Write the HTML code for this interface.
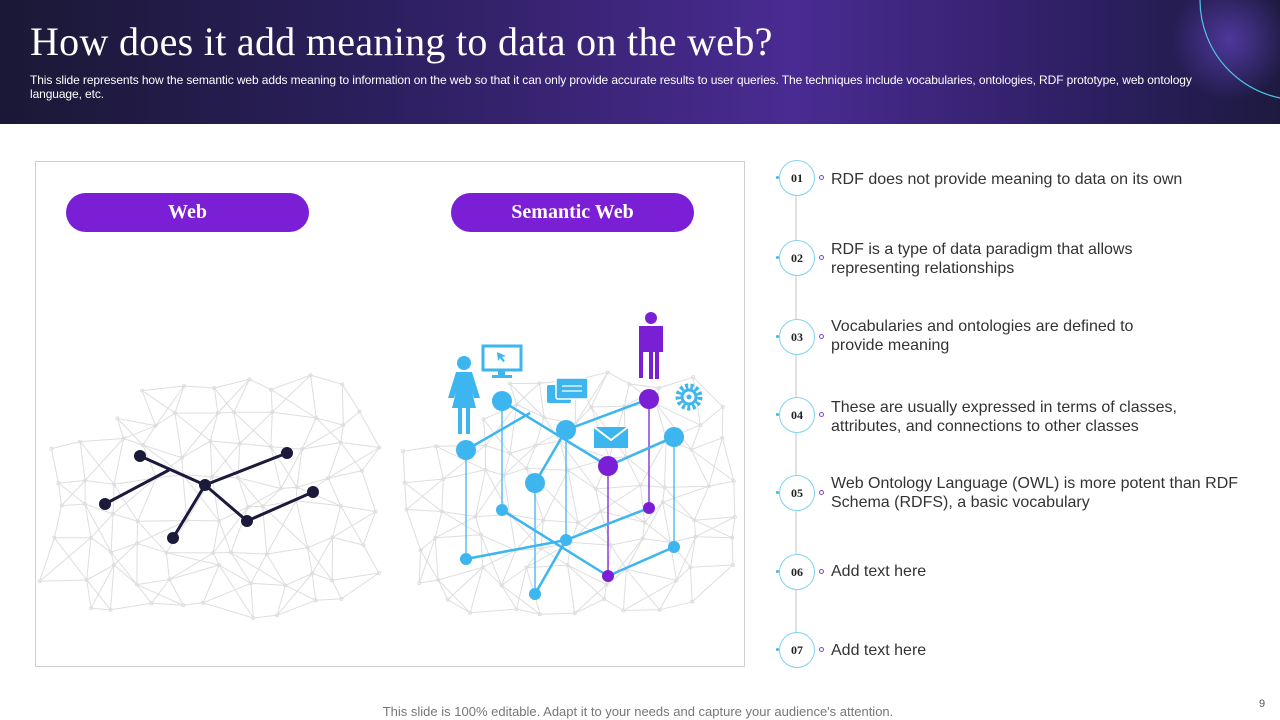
<!DOCTYPE html>
<html><head><meta charset="utf-8"><style>
body{margin:0;width:1280px;height:720px;position:relative;overflow:hidden;background:#fff;font-family:"Liberation Sans",sans-serif}
.hdr{position:absolute;left:0;top:0;width:1280px;height:124px;background:linear-gradient(90deg,#1a1835 0%,#2c1f5e 30%,#4a2b92 62%,#2d1f62 85%,#1d1a40 100%);overflow:hidden}
.hdr h1{position:absolute;left:30px;top:18px;margin:0;font-family:"Liberation Serif",serif;font-weight:normal;color:#fff;font-size:40px;letter-spacing:0.3px;white-space:nowrap}
.hdr p{position:absolute;left:30px;top:73px;margin:0;width:1190px;color:#fff;font-size:12px;line-height:14px;letter-spacing:-0.1px}
.panel{position:absolute;left:35px;top:161px;width:708px;height:504px;border:1px solid #cfcfcf}
.btn{position:absolute;top:193px;width:243px;height:39px;border-radius:20px;background:#7a1fd6;color:#fff;font-family:"Liberation Serif",serif;font-weight:bold;font-size:20px;text-align:center;line-height:39px}
.c{position:absolute;left:779px;width:34px;height:34px;border:1.5px solid #7fd3ee;border-radius:50%;background:#fff;font-family:"Liberation Serif",serif;font-weight:bold;font-size:12px;text-align:center;line-height:34px;color:#222}
.c:before{content:"";position:absolute;left:-4px;top:15px;width:3px;height:3px;border-radius:50%;background:#3bb8ea}
.c:after{content:"";position:absolute;left:39px;top:14px;width:3px;height:3px;border-radius:50%;border:1px solid #8a3fd1}
.t{position:absolute;left:831px;font-size:16px;line-height:19px;color:#333}
.foot{position:absolute;left:0;width:1276px;top:704px;text-align:center;font-size:13px;color:#777}
</style></head><body>
<div class="hdr">
<svg width="1280" height="124" style="position:absolute;left:0;top:0">
<defs><radialGradient id="g"><stop offset="0" stop-color="#5a3fb0" stop-opacity=".8"/><stop offset="1" stop-color="#5a3fb0" stop-opacity="0"/></radialGradient></defs>
<circle cx="1230" cy="40" r="60" fill="url(#g)"/>
<circle cx="1300" cy="0" r="100" fill="none" stroke="#4fc6e8" stroke-width="1.2"/>
</svg>
<h1>How does it add meaning to data on the web?</h1>
<p>This slide represents how the semantic web adds meaning to information on the web so that it can only provide accurate results to user queries. The techniques include vocabularies, ontologies, RDF prototype, web ontology language, etc.</p>
</div>
<div class="panel"></div>
<div class="btn" style="left:66px">Web</div>
<div class="btn" style="left:451px">Semantic Web</div>
<svg id="s" width="1280" height="720" style="position:absolute;left:0;top:0">
<g id="mesh" stroke="#dedede" stroke-width="1" fill="none"></g>
<g stroke="#1c1a3a" stroke-width="3">
<line x1="140" y1="456" x2="205" y2="485"/><line x1="105" y1="504" x2="169" y2="470"/><line x1="205" y1="485" x2="287" y2="453"/><line x1="205" y1="485" x2="173" y2="538"/><line x1="205" y1="485" x2="247" y2="521"/><line x1="247" y1="521" x2="313" y2="492"/>
</g>
<g fill="#1c1a3a"><circle cx="140" cy="456" r="6"/><circle cx="205" cy="485" r="6"/><circle cx="287" cy="453" r="6"/><circle cx="105" cy="504" r="6"/><circle cx="173" cy="538" r="6"/><circle cx="247" cy="521" r="6"/><circle cx="313" cy="492" r="6"/></g>
<g stroke="#3db5ee" stroke-width="1.3">
<line x1="466" y1="450" x2="466" y2="559"/><line x1="502" y1="401" x2="502" y2="510"/><line x1="566" y1="430" x2="566" y2="540"/><line x1="535" y1="483" x2="535" y2="594"/><line x1="674" y1="437" x2="674" y2="547"/></g>
<g stroke="#7a1fd6" stroke-width="1.3"><line x1="649" y1="399" x2="649" y2="508"/><line x1="608" y1="466" x2="608" y2="576"/></g>
<g stroke="#3db5ee" stroke-width="2.5">
<line x1="466" y1="450" x2="530" y2="413"/><line x1="502" y1="401" x2="608" y2="466"/><line x1="566" y1="430" x2="649" y2="399"/><line x1="566" y1="430" x2="535" y2="483"/><line x1="608" y1="466" x2="674" y2="437"/>
<line x1="466" y1="559" x2="566" y2="540"/><line x1="502" y1="510" x2="608" y2="576"/><line x1="608" y1="576" x2="674" y2="547"/><line x1="566" y1="540" x2="649" y2="508"/><line x1="566" y1="540" x2="535" y2="594"/></g>
<g fill="#3db5ee"><circle cx="466" cy="450" r="10"/><circle cx="502" cy="401" r="10"/><circle cx="566" cy="430" r="10"/><circle cx="535" cy="483" r="10"/><circle cx="674" cy="437" r="10"/>
<circle cx="502" cy="510" r="6"/><circle cx="566" cy="540" r="6"/><circle cx="466" cy="559" r="6"/><circle cx="535" cy="594" r="6"/><circle cx="674" cy="547" r="6"/></g>
<g fill="#7a1fd6"><circle cx="649" cy="399" r="10"/><circle cx="608" cy="466" r="10"/><circle cx="649" cy="508" r="6"/><circle cx="608" cy="576" r="6"/></g>
<g fill="#3db5ee"><circle cx="464" cy="363" r="7"/><path d="M456 372h16l8 26h-6l-2-6 4 16h-6v26h-4v-26h-4v26h-4v-26h-6l4-16-2 6h-6z"/>
<rect x="483" y="346" width="38" height="24" fill="none" stroke="#3db5ee" stroke-width="3"/><rect x="498" y="370" width="7" height="5"/><rect x="492" y="375" width="20" height="3"/><path d="M497 352l9 4-4 1 3 4-2 1-3-4-2 3z"/>
<rect x="547" y="385" width="24" height="18" rx="2"/><rect x="556" y="378" width="32" height="21" rx="2" stroke="#fff" stroke-width="1.5"/><path d="M562 386h20M562 391h20" stroke="#fff" stroke-width="1.2"/>
<rect x="594" y="427" width="34" height="21"/><path d="M594 427l17 13 17-13" fill="none" stroke="#fff" stroke-width="2"/>
<circle cx="689" cy="397" r="11" fill="none" stroke="#3db5ee" stroke-width="5" stroke-dasharray="3 2.3"/><circle cx="689" cy="397" r="7" fill="none" stroke="#3db5ee" stroke-width="3"/><circle cx="689" cy="397" r="2.5"/></g>
<g fill="#7a1fd6"><circle cx="651" cy="318" r="6"/><path d="M639 326h24v26h-4v27h-4v-27h-2v27h-4v-27h-6v26h-4z"/></g>
<line x1="796" y1="177" x2="796" y2="649" stroke="#cfcfcf" stroke-width="1.2"/>
</svg>
<div class="c" style="top:160px">01</div><div class="c" style="top:240px">02</div><div class="c" style="top:319px">03</div><div class="c" style="top:397px">04</div><div class="c" style="top:475px">05</div><div class="c" style="top:554px">06</div><div class="c" style="top:632px">07</div>
<div class="t" style="top:170px">RDF does not provide meaning to data on its own</div>
<div class="t" style="top:240px">RDF is a type of data paradigm that allows<br>representing relationships</div>
<div class="t" style="top:317px">Vocabularies and ontologies are defined to<br>provide meaning</div>
<div class="t" style="top:398px">These are usually expressed in terms of classes,<br>attributes, and connections to other classes</div>
<div class="t" style="top:474px">Web Ontology Language (OWL) is more potent than RDF<br>Schema (RDFS), a basic vocabulary</div>
<div class="t" style="top:562px">Add text here</div>
<div class="t" style="top:641px">Add text here</div>
<div class="foot">This slide is 100% editable. Adapt it to your needs and capture your audience's attention.</div>
<div style="position:absolute;left:1259px;top:698px;font-size:11px;color:#555">9</div>
<script>
var seed=7;function r(){seed=(seed*16807)%2147483647;return seed/2147483647;}
var g=document.getElementById('mesh'),h='';
function mesh(x0,y0,w,hh,cols,rows){var p=[];for(var j=0;j<rows;j++){p[j]=[];for(var i=0;i<cols;i++){var x=x0+i*w/(cols-1)+(r()-.5)*w/cols*0.8,y=y0+j*hh/(rows-1)+(r()-.5)*hh/rows*0.8;
var inside=!((j==0&&(i<3||i==cols-1))||(j==1&&i<2)||(j==rows-1&&(i==0||i==cols-1)));p[j][i]=inside?[x,y]:null;}}
function L(a,b){if(a&&b)h+='<line x1="'+a[0].toFixed(1)+'" y1="'+a[1].toFixed(1)+'" x2="'+b[0].toFixed(1)+'" y2="'+b[1].toFixed(1)+'"/>';}
for(j=0;j<rows;j++)for(i=0;i<cols;i++){var a=p[j][i];if(!a)continue;h+='<circle cx="'+a[0]+'" cy="'+a[1]+'" r="1.5"/>';if(i<cols-1)L(a,p[j][i+1]);if(j<rows-1){L(a,p[j+1][i]);if((i+j)%2)L(a,p[j+1][i+1]||null);else if(i>0)L(a,p[j+1][i-1]);}}}
mesh(50,385,320,222,11,8);mesh(410,383,320,225,11,8);
g.innerHTML=h;
</script>
</body></html>
